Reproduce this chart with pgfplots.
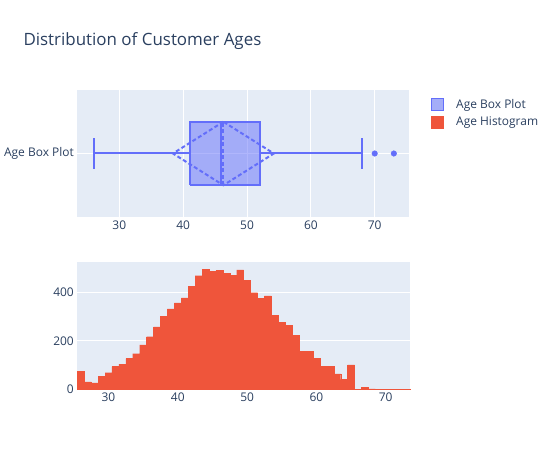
\documentclass[border=0pt]{standalone}
\usepackage{pgfplots}
\pgfplotsset{compat=1.18}
\usepackage{fontspec}
\setmainfont{Open Sans}
\definecolor{bg}{HTML}{E5ECF6}
\definecolor{boxc}{HTML}{636EFA}
\definecolor{histc}{HTML}{EF553B}
\definecolor{txt}{HTML}{2A3F5F}
\pgfplotsset{
  plotlystyle/.style={
    scale only axis,
    axis background/.style={fill=bg},
    axis line style={draw=none},
    major tick length=0pt,
    grid style={white, line width=1bp},
    tick label style={font=\fontsize{12}{14}\selectfont, text=txt},
    /pgf/number format/assume math mode=true,
    clip=false,
  },
  boxline/.style={draw=boxc, line width=2bp},
}
\begin{document}
\begin{tikzpicture}
\path (0,0) rectangle (552bp,457bp);
\node[anchor=base west, text=txt, font=\fontsize{17}{20}\selectfont] at (20bp,411bp) {Distribution of Customer Ages};

% box plot
\begin{axis}[plotlystyle,
  at={(77.3bp,240bp)}, anchor=south west,
  width=332bp, height=127bp,
  xmin=23.42, xmax=75.42, ymin=-0.5, ymax=0.5,
  xtick={30,40,50,60,70}, xmajorgrids,
  ytick={0}, yticklabels={Age Box Plot}, ymajorgrids,
  legend style={at={(1.055,0.96)}, anchor=north west, draw=none, fill=none,
    font=\fontsize{12}{14}\selectfont, text=txt, row sep=3bp,
    /tikz/column 1/.style={column sep=10bp}},
  legend cell align=left,
]
\addlegendimage{legend image code/.code={
  \fill[boxc!50!bg] (0bp,-6bp) rectangle (12bp,6bp);
  \draw[boxc, line width=1.5bp] (0bp,-6bp) rectangle (12bp,6bp);}}
\addlegendentry{Age Box Plot}
\addlegendimage{legend image code/.code={\fill[histc] (0bp,-6bp) rectangle (12bp,6bp);}}
\addlegendentry{Age Histogram}
% box fill
\addplot[draw=none, fill=boxc, fill opacity=0.5, forget plot] coordinates {(41,-0.25) (52,-0.25) (52,0.25) (41,0.25)} -- cycle;
% whiskers
\addplot[boxline, forget plot] coordinates {(26,0) (41,0)};
\addplot[boxline, forget plot] coordinates {(52,0) (68,0)};
\addplot[boxline, forget plot] coordinates {(26,-0.122) (26,0.122)};
\addplot[boxline, forget plot] coordinates {(68,-0.122) (68,0.122)};
% box outline and median
\addplot[boxline, forget plot] coordinates {(41,-0.25) (52,-0.25) (52,0.25) (41,0.25) (41,-0.25)};
\addplot[boxline, forget plot] coordinates {(46,-0.25) (46,0.25)};
% mean and standard deviation
\addplot[boxline, dash pattern=on 4bp off 2.5bp, forget plot] coordinates {(46.3,0.25) (38.4,0) (46.3,-0.25) (54.2,0) (46.3,0.25)};
\addplot[boxline, dash pattern=on 4bp off 2.5bp, forget plot] coordinates {(46.3,-0.25) (46.3,0.25)};
% outliers
\addplot[only marks, mark=*, mark size=2.8bp, mark options={fill=boxc, draw=boxc}, forget plot] coordinates {(70,0) (73,0)};
\end{axis}

% histogram
\begin{axis}[plotlystyle,
  at={(77.3bp,67.5bp)}, anchor=south west,
  width=332.7bp, height=127.2bp,
  xmin=25.5, xmax=73.5, ymin=0, ymax=523,
  xtick={30,40,50,60,70},
  ytick={0,200,400}, ymajorgrids,
]
\addplot[ybar interval, fill=histc, draw=histc, line width=0.3bp] table {
x y
25.5 75
26.5 31
27.5 27
28.5 55
29.5 69
30.5 94
31.5 104
32.5 127
33.5 147
34.5 183
35.5 217
36.5 257
37.5 301
38.5 331
39.5 356
40.5 377
41.5 423
42.5 468
43.5 494
44.5 485
45.5 489
46.5 478
47.5 470
48.5 492
49.5 448
50.5 398
51.5 374
52.5 385
53.5 305
54.5 277
55.5 263
56.5 224
57.5 156
58.5 156
59.5 127
60.5 94
61.5 94
62.5 64
63.5 42
64.5 101
65.5 2
66.5 8
67.5 3
68.5 0
69.5 2
70.5 0
71.5 0
72.5 2
73.5 0
};
\end{axis}
\end{tikzpicture}
\end{document}
